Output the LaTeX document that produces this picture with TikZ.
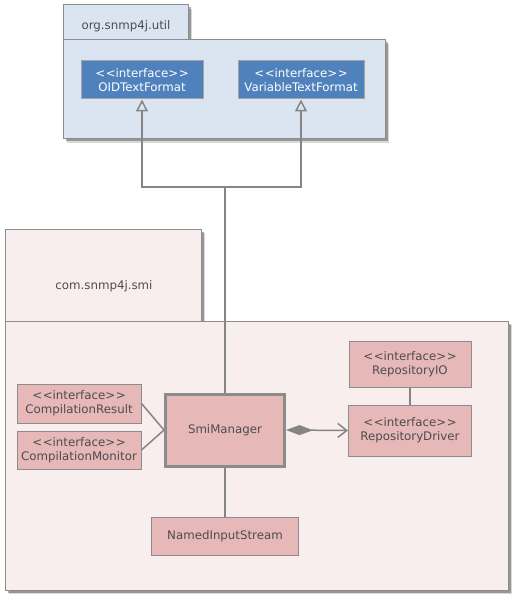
\documentclass[tikz,border=0pt]{standalone}
\usepackage{fontspec}
\setmainfont{DejaVu Sans}
\usetikzlibrary{arrows.meta,shadows}
\definecolor{pkgblue}{HTML}{DBE5F1}
\definecolor{boxblue}{HTML}{4F81BD}
\definecolor{pkgpink}{HTML}{F8EEEE}
\definecolor{boxpink}{HTML}{E6B8B7}
\definecolor{edge}{HTML}{8C8C8C}
\definecolor{txt}{HTML}{4D4D4D}
\newcommand{\ifc}{\textless\kern0.6pt\textless interface\textgreater\kern0.6pt\textgreater}
\tikzset{
  pkg/.style={draw=edge, line width=1pt, inner sep=0pt,
    drop shadow={shadow xshift=4pt, shadow yshift=-4pt, fill=black, opacity=0.15},
    drop shadow={shadow xshift=2.5pt, shadow yshift=-2.5pt, fill=black, opacity=0.3}},
  pkgb/.style={pkg, fill=pkgblue},
  pkgp/.style={pkg, fill=pkgpink},
  lbl/.style={text=txt, inner sep=0pt},
  ibox/.style={draw=edge!80, line width=1pt, fill=boxblue, text=white, align=center, inner sep=0pt},
  cbox/.style={draw=edge, line width=1pt, fill=boxpink, text=txt, align=center, inner sep=0pt},
  conn/.style={draw=edge!95!black, line width=1.5pt},
}
\begin{document}
\begin{tikzpicture}[x=1pt,y=-1pt,font=\fontsize{11.8}{14}\selectfont]
\useasboundingbox[fill=white] (0,0) rectangle (523,604);
% packages
\node[pkgb, minimum width=125, minimum height=35] (utab) at (125.5,22.5) {};
\node[pkgb, minimum width=322, minimum height=99] (ubody) at (224,89.5) {};
\node[lbl] (ulbl) at (126,26) {org.snmp4j.util};
\node[pkgp, minimum width=196, minimum height=92] (stab) at (103,275) {};
\node[pkgp, minimum width=503, minimum height=269] (sbody) at (256.5,455.5) {};
\node[lbl] (slbl) at (104,286) {com.snmp4j.smi};
% classes
\node[ibox, minimum width=122, minimum height=38] (oid) at (142,80) {\ifc\\OIDTextFormat};
\node[ibox, minimum width=126, minimum height=38] (var) at (301,80) {\ifc\\VariableTextFormat};
\node[cbox, line width=3pt, minimum width=119, minimum height=72] (smi) at (225,430) {SmiManager};
\node[cbox, minimum width=124, minimum height=39] (cr) at (79,403.5) {\ifc\\CompilationResult};
\node[cbox, minimum width=124, minimum height=38] (cm) at (79,450) {\ifc\\CompilationMonitor};
\node[cbox, minimum width=122, minimum height=46] (rio) at (410,364) {\ifc\\RepositoryIO};
\node[cbox, minimum width=123, minimum height=51] (rd) at (410,430.5) {\ifc\\RepositoryDriver};
\node[cbox, minimum width=147, minimum height=38] (nis) at (225,536) {NamedInputStream};
% connectors
\coordinate (j) at (225,187);
\draw[conn] (smi.north) -- (j);
\draw[conn, -{Triangle[open, length=12pt, width=12pt, line width=1.5pt]}] (j) -| (oid.south);
\draw[conn, -{Triangle[open, length=12pt, width=12pt, line width=1.5pt]}] (j) -| (var.south);
\draw[conn] (cr.east) -- (smi.west);
\draw[conn] (cm.east) -- (smi.west);
\draw[conn] (rio.south) -- (rd.north);
\draw[conn] (smi.south) -- (nis.north);
\draw[conn, {Diamond[fill=edge!95!black, length=27pt, width=10pt]}-{Straight Barb[length=9pt, width=14pt, line width=1.5pt]}] (smi.east) -- (rd.west);
\end{tikzpicture}
\end{document}
